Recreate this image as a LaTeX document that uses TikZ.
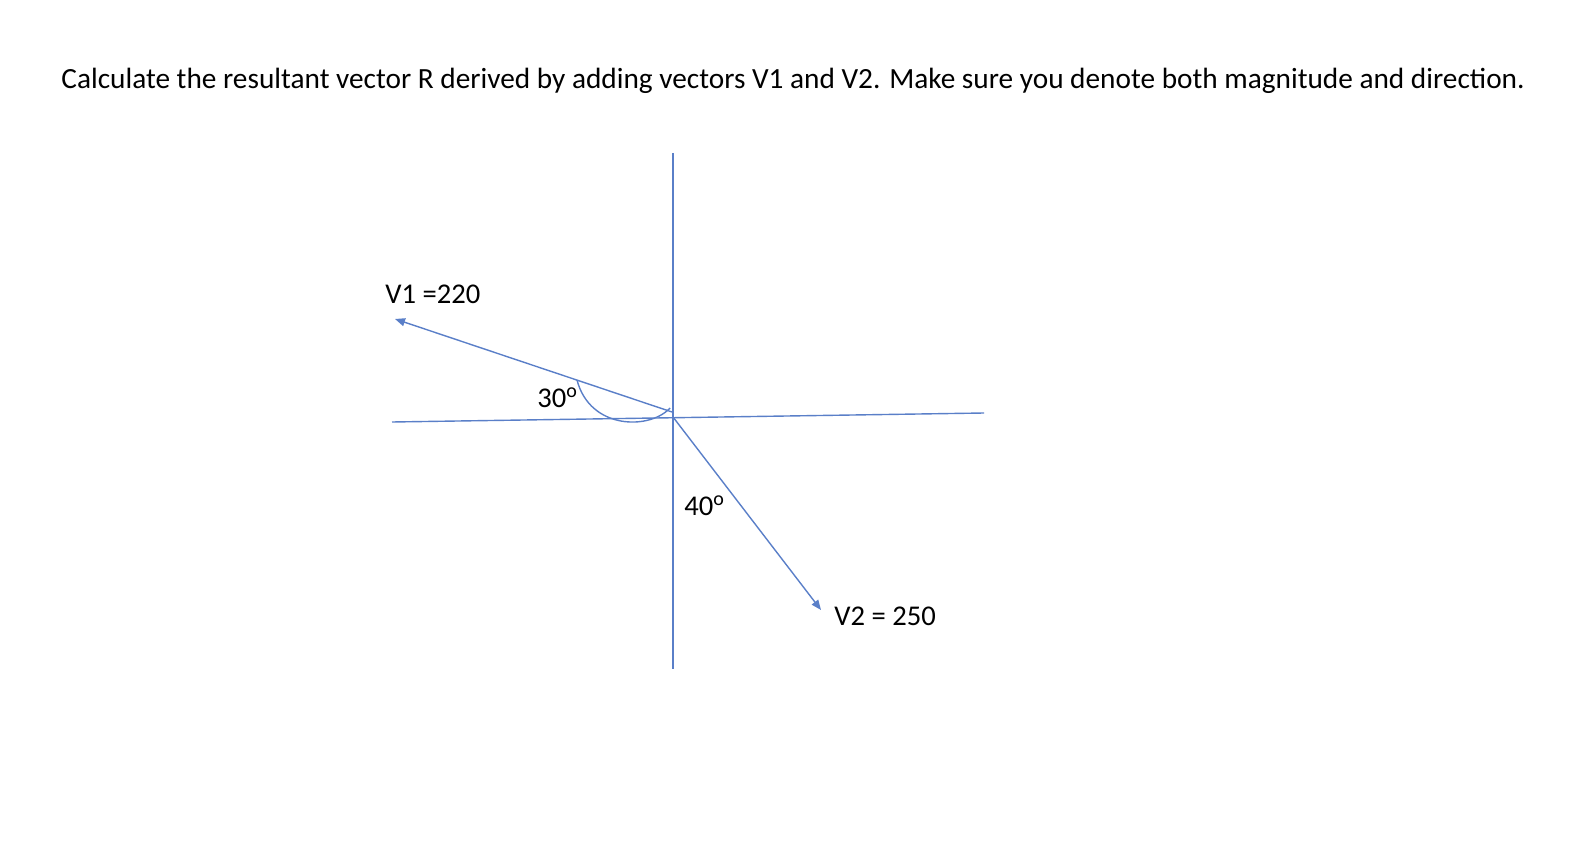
\documentclass[tikz,border=0pt]{standalone}
\usepackage{fontspec}
\setmainfont{Carlito}
\usetikzlibrary{shapes,arrows,arrows.meta}
\definecolor{vblue}{HTML}{5A7FC8}
\tikzstyle{ln} = [draw=vblue, line width=0.7pt]
\tikzstyle{vec} = [ln, -{Triangle[length=5pt,width=4pt]}]
\tikzstyle{lbl} = [anchor=west, inner sep=0pt, font=\fontsize{14.3}{17}\selectfont]

\begin{document}
\begin{tikzpicture}[x=0.5pt,y=-0.5pt]
			\useasboundingbox (0,0) rectangle (1594,850);
			\node[inner sep=0pt,font=\fontsize{14.65}{17}\selectfont](t) at (793,81){Calculate the resultant vector R derived by adding vectors V1 and V2. Make sure you denote both magnitude and direction.};
			
			\coordinate (o) at (673,417);
			\coordinate (o1) at (672,412);
			\coordinate (u) at (673,153);
			\coordinate (d) at (673,669);
			\coordinate (l) at (392,422);
			\coordinate (r) at (984,413);
			\coordinate (a) at (395,319);
			\coordinate (b) at (821,610);
			\coordinate (p) at (577,380);
			\coordinate (q) at (670,408);
			
			\node[lbl](1) at (385,294){V1 =220};
			\node[lbl](2) at (537,398){30\textsuperscript{o}};
			\node[lbl](3) at (684,506){40\textsuperscript{o}};
			\node[lbl](4) at (834,616){V2 = 250};
			
			\draw[ln] (u)--(d);
			\draw[ln] (l)--(r);
			\draw[vec] (o1)--(a);
			\draw[vec] (o)--(b);
			\draw[ln] (p) .. controls (590,430) and (650,430) .. (q);
			\end{tikzpicture}
\end{document}
